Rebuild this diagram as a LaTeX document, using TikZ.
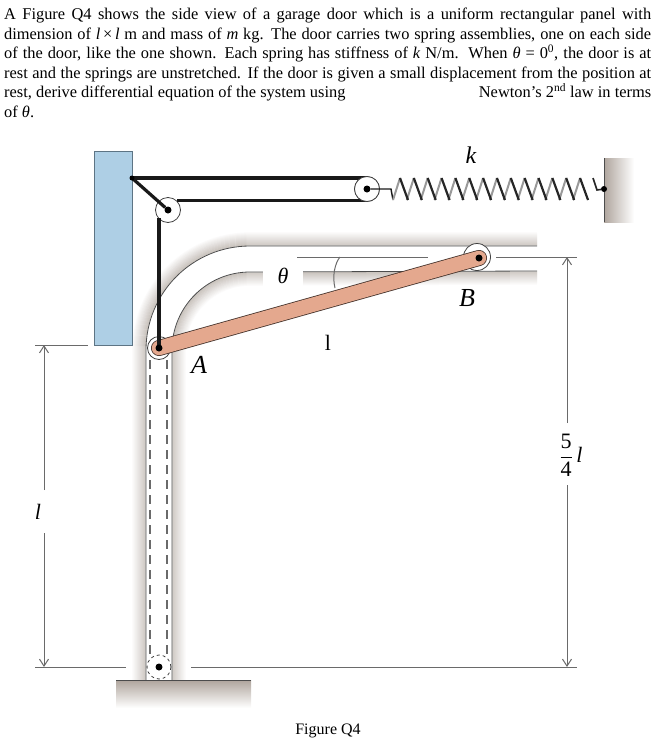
\documentclass[tikz,border=0pt]{standalone}
\usepackage{amsmath}
\usepackage{fontspec}
\setmainfont{Liberation Serif}
\usetikzlibrary{arrows.meta}
\definecolor{wallblue}{HTML}{AECFE5}
\definecolor{walledge}{HTML}{5D7484}
\definecolor{shade}{HTML}{AFA59D}
\definecolor{doorfill}{HTML}{E4A88E}
\definecolor{dimgray}{HTML}{6A6A6A}

\begin{document}
\begin{tikzpicture}
  [x=1pt,y=-1pt,
   every node/.style={inner sep=0pt},
   roller/.style={circle,draw=black!75,fill=white,line width=.8pt},
   pin/.style={circle,fill=black,minimum size=7pt},
   rod/.style={line width=3.2pt,black!90},
   track/.style={line width=.8pt,black!70},
   dimline/.style={line width=1pt,dimgray},
   dimarrow/.style={dimline,-{Straight Barb[length=7pt,width=9pt]}},
   rail/.style={dashed,dash pattern=on 9pt off 6pt,line width=1.2pt,dimgray},
   lab/.style={font=\fontsize{#1}{#1}\selectfont\itshape}]
  \useasboundingbox (0,0) rectangle (669,753);

  \node[anchor=north west,text width=647pt,align=justify,font=\fontsize{16.4}{19.55}\selectfont] (task) at (4,8)
   {A Figure Q4 shows the side view of a garage door which is a uniform rectangular panel with\linebreak
    dimension of \textit{l}\,×\,\textit{l} m and mass of \textit{m} kg. The door carries two spring assemblies, one on each side\linebreak
    of the door, like the one shown. Each spring has stiffness of \textit{k} N/m.\ \ When \textit{θ} = 0\textsuperscript{0}, the door is at\linebreak
    rest and the springs are unstretched. If the door is given a small displacement from the position at\linebreak
    rest, derive differential equation of the system using \hfill Newton’s 2\textsuperscript{nd} law in terms\linebreak
    of \textit{θ}.};

  \foreach \d in {14,13,...,1} {
    \pgfmathtruncatemacro{\fade}{70-\d*5}
    \draw[shade!\fade,line width=1.3pt] (146-\d,680) -- (146-\d,350)
      arc[start angle=180,end angle=270,radius=104+\d] -- (537,246-\d);
    \draw[shade!\fade,line width=1.3pt] (172+\d,680) -- (172+\d,350)
      arc[start angle=180,end angle=270,radius=78-\d] -- (537,271+\d);
  }
  \draw[track] (146,680) -- (146,350) arc[start angle=180,end angle=270,radius=104] -- (537,246);
  \draw[track] (172,680) -- (172,350) arc[start angle=180,end angle=270,radius=78] -- (537,271);
  \draw[rail] (150,360) -- (150,655);
  \draw[rail] (167,360) -- (167,655);

  \node[fill=white,minimum width=40pt,minimum height=30pt] (gap) at (283,276) {};
  \node[lab=22] (theta) at (283,276) {θ};

  \shade[top color=shade,middle color=shade!65,bottom color=white] (116,680) rectangle (251,708);
  \draw[track] (116,680) -- (251,680);
  \shade[left color=shade,middle color=shade!65,right color=white] (604,158) rectangle (634,222);
  \draw[track] (604,158) -- (604,222);
  \draw[draw=walledge,fill=wallblue,line width=.8pt] (94,151) rectangle (132,345);

  \coordinate (hinge) at (132,178);
  \coordinate (rodtop) at (159,218);
  \coordinate (sp) at (604,189);
  \node[circle,fill=black,minimum size=6pt] (wallpin) at (sp) {};

  \node[roller,minimum size=25pt] (pl) at (168,210) {};
  \node[roller,minimum size=25pt] (pr) at (367,189) {};
  \draw[rod] (hinge) -- (hinge -| pr);
  \draw[rod] (pl.45) -- (pl.45 -| pr);
  \node[roller,minimum size=25pt] (prtop) at (367,189) {};
  \node[pin] (pinl) at (pl) {};
  \node[pin] (pinr) at (pr) {};
  \draw[rod] (hinge) -- (pinl);
  \node[circle,fill=black,minimum size=5pt] (hingedot) at (hinge) {};

  \coordinate (refa) at (297,257);
  \coordinate (refb) at (428,257);
  \coordinate (arca) at (340,257);
  \coordinate (arcb) at (335,288);
  \draw[dimline] (refa) -- (refb);
  \draw[dimline] (arca) .. controls (335,263) and (332,276) .. (arcb);

  \node[roller,minimum size=27pt] (rb) at (477,257) {};
  \node[roller,minimum size=23pt] (ra) at (159,348) {};
  \node[roller,dashed,minimum size=24pt] (rc) at (159,667) {};
  \node[pin] (pinc) at (rc) {};

  \coordinate (pa) at (159,348);
  \coordinate (pb) at (479,258);
  \draw[line width=16pt,line cap=round,black!70!doorfill] (pa) -- (pb);
  \draw[line width=14.4pt,line cap=round,doorfill] (pa) -- (pb);
  \draw[rod] (rodtop) -- (pa);
  \node[pin] (pina) at (pa) {};
  \node[pin] (pinb) at (pb) {};

  \draw[black!90,line width=1.4pt] (pinr) -- (391,189) -- (393,200);
  \foreach \i in {0,...,13} {
    \draw[black!40,line width=2pt] (393+13.85*\i,200) -- (400+13.85*\i,178);
  }
  \foreach \i in {0,...,13} {
    \draw[black!85,line width=2.2pt] (400+13.85*\i,178) -- (408+13.85*\i,200);
  }
  \draw[black!85,line width=1.6pt] (593,178) -- (597,190) -- (wallpin);

  \coordinate (dla) at (44,345);
  \coordinate (dlb) at (44,667);
  \coordinate (dra) at (567,257);
  \coordinate (drb) at (567,667);
  \draw[dimline] (35,345) -- (88,345);
  \draw[dimline] (35,667) -- (126,667);
  \draw[dimline] (496,257) -- (577,257);
  \draw[dimline] (191,667) -- (577,667);
  \draw[dimarrow] (44,490) -- (dla);
  \draw[dimarrow] (44,533) -- (dlb);
  \draw[dimarrow] (567,423) -- (dra);
  \draw[dimarrow] (567,485) -- (drb);

  \node[lab=24] (k) at (471,155) {k};
  \node[lab=26] (A) at (199,365) {A};
  \node[lab=26] (B) at (467,298) {B};
  \node[lab=22] (ll) at (38,512) {l};
  \node[font=\fontsize{22}{22}\selectfont] (ld) at (328,343) {l};
  \node[font=\fontsize{22}{22}\selectfont] (frac) at (571,455) {$\dfrac{\text{5}}{\text{4}}$\,\textit{l}};
  \node[font=\fontsize{16}{16}\selectfont] (cap) at (328,731) {Figure Q4};
\end{tikzpicture}
\end{document}
